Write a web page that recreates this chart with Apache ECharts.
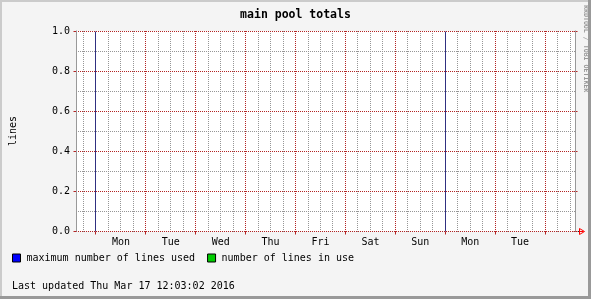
<!DOCTYPE html>
<html>
<head>
<meta charset="utf-8">
<script src="https://cdn.jsdelivr.net/npm/echarts@6/dist/echarts.min.js"></script>
<style>
html,body{margin:0;padding:0;background:#f4f4f4;}
#c{width:591px;height:299px;}
</style>
</head>
<body>
<div id="c"></div>
<script>
// Time axis in hours relative to the first Monday 00:00
const xMin = -9.6;
const xMax = 230.4;
const dayLabels = ['Mon','Tue','Wed','Thu','Fri','Sat','Sun','Mon','Tue'];
const dayLabelHours = [12,36,60,84,108,132,156,180,204];
const midnightHours = [24,48,72,96,120,144,192,216];
const weekStartHours = [0,168];
const minorHours = [-6,6,12,18,30,36,42,54,60,66,78,84,90,102,108,114,126,132,138,150,156,162,174,180,186,198,204,210,222,228];
const yTicks = [0,0.2,0.4,0.6,0.8,1.0];
const yMinorTicks = [0.1,0.3,0.5,0.7,0.9];
const seriesNames = ['maximum number of lines used','number of lines in use'];
const seriesColors = ['#0000ff','#00cc00'];
// No samples recorded in the period shown
const maxLinesUsed = [];
const linesInUse = [];
const titleText = 'main pool totals';
const yName = 'lines';
const footerText = 'Last updated Thu Mar 17 12:03:02 2016';
const watermark = 'RRDTOOL / TOBI OETIKER';

const MONO = '"DejaVu Sans Mono", monospace';
const MGRID = '#b42424';
const GRID = '#969696';

const chart = echarts.init(document.getElementById('c'), null, {renderer:'canvas'});

const option = {
  backgroundColor:'#f4f4f4',
  animation:false,
  color:seriesColors,
  title:{
    text:titleText, left:'center', top:9, padding:0,
    textStyle:{fontFamily:MONO, fontWeight:'bold', fontSize:11.5, color:'#000'}
  },
  legend:{
    left:12, top:253, padding:0, itemGap:12, itemWidth:8, itemHeight:8,
    icon:'rect',
    itemStyle:{borderColor:'#000', borderWidth:1},
    textStyle:{fontFamily:MONO, fontSize:10, color:'#000', padding:[0,0,0,1]},
    data:seriesNames
  },
  grid:{left:75, top:31, width:500, height:200, containLabel:false, show:true, backgroundColor:'#ffffff', borderWidth:0},
  xAxis:{
    type:'value', min:xMin, max:xMax, position:'bottom',
    axisLine:{show:false}, splitLine:{show:false},
    axisTick:{show:false, customValues:dayLabelHours},
    axisLabel:{show:true, customValues:dayLabelHours, margin:6,
      fontFamily:MONO, fontSize:10, color:'#000',
      formatter:function(v){ const i = dayLabelHours.indexOf(v); return i>=0 ? dayLabels[i] : ''; }}
  },
  yAxis:{
    type:'value', min:0, max:1, interval:0.2, position:'left',
    name:yName, nameLocation:'middle', nameRotate:90, nameGap:58,
    nameTextStyle:{fontFamily:MONO, fontSize:10, color:'#000'},
    axisLine:{show:false}, axisTick:{show:false}, splitLine:{show:false},
    axisLabel:{margin:6, fontFamily:MONO, fontSize:10, color:'#000',
      formatter:function(v){ return v.toFixed(1); }}
  },
  series:[
    {name:seriesNames[0], type:'line', data:maxLinesUsed, showSymbol:false,
     itemStyle:{color:seriesColors[0]}, lineStyle:{color:seriesColors[0], width:1}},
    {name:seriesNames[1], type:'line', data:linesInUse, showSymbol:false,
     itemStyle:{color:seriesColors[1]}, lineStyle:{color:seriesColors[1], width:1}}
  ]
};
chart.setOption(option);

// Grid lines, ticks and frame placed through the chart's own axis scales
const px = v => Math.floor(chart.convertToPixel({xAxisIndex:0}, v)) + 0.5;
const py = v => Math.floor(chart.convertToPixel({yAxisIndex:0}, v)) + 0.5;
const L = px(xMin), R = px(xMax), T = py(1), B = py(0);
const g = [];
function ln(x1,y1,x2,y2,stroke,dash,z){
  g.push({type:'line', z:z||5, silent:true, shape:{x1,y1,x2,y2}, style:{stroke, lineWidth:1, lineDash:dash||null}});
}
// dotted lines start on whole pixels so each dot fills exactly one pixel
minorHours.forEach(h => ln(px(h),T-0.5,px(h),B+0.5,GRID,[1,1],5));
yMinorTicks.forEach(v => ln(L-0.5,py(v),R+0.5,py(v),GRID,[1,1],5));
midnightHours.forEach(h => { ln(px(h),T-0.5,px(h),B+0.5,MGRID,[1,1],6); ln(px(h),B,px(h),B+3,MGRID,null,6); });
yTicks.forEach(v => { ln(L-0.5,py(v),R+0.5,py(v),MGRID,[1,1],6); ln(L-3,py(v),L,py(v),MGRID,null,7); ln(R-2,py(v),R+2,py(v),MGRID,null,7); });
weekStartHours.forEach(h => { ln(px(h),T,px(h),B,'#303080',null,7); ln(px(h),B,px(h),B+3,MGRID,null,7); });
ln(L,T-1,L,B,'#999999',null,8);
ln(R,T-1,R,B,'#999999',null,8);
ln(L-0.5,B,R+4,B,'#202020',[1,1],5);
// red arrow at the end of the time axis
g.push({type:'polygon', z:9, silent:true, shape:{points:[[R+4,B-3],[R+9,B],[R+4,B+3]]}, style:{fill:'none', stroke:'#ff0000', lineWidth:1}});
ln(R+4,B,R+8,B,'#ff0000',null,9);
// frame shading, footer and watermark
g.push({type:'rect', silent:true, shape:{x:0, y:0, width:591, height:2}, style:{fill:'#cbcbcb'}});
g.push({type:'rect', silent:true, shape:{x:0, y:0, width:2, height:299}, style:{fill:'#cbcbcb'}});
g.push({type:'rect', silent:true, shape:{x:588, y:0, width:3, height:299}, style:{fill:'#999999'}});
g.push({type:'rect', silent:true, shape:{x:0, y:296, width:591, height:3}, style:{fill:'#999999'}});
g.push({type:'text', silent:true, x:12, y:286, style:{text:footerText, font:'10px '+MONO, fill:'#000', verticalAlign:'middle'}});
g.push({type:'text', silent:true, x:589, y:5, rotation:-Math.PI/2, style:{text:watermark, font:'bold 6.6px '+MONO, fill:'#999999'}});
chart.setOption({graphic:g});
</script>
</body>
</html>
